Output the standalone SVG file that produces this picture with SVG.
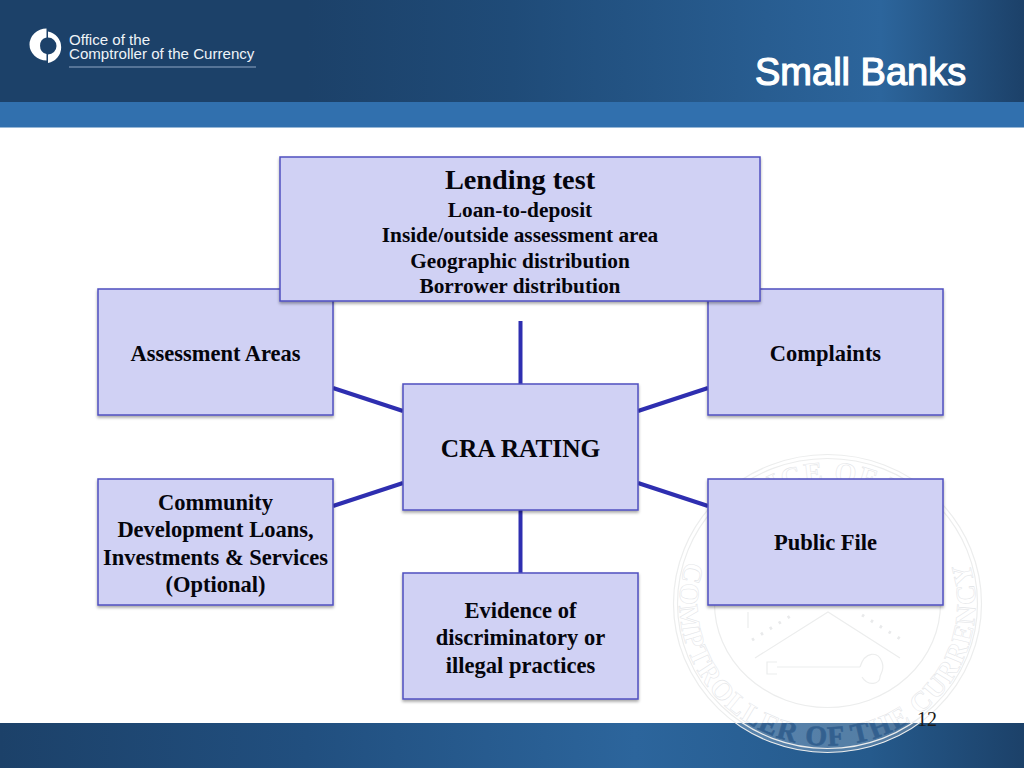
<svg xmlns="http://www.w3.org/2000/svg" width="1024" height="768" viewBox="0 0 1024 768">
<style>
.box{fill:#d0d1f4;stroke:#4f4fc0;stroke-width:1.5;filter:url(#sh)}
.t{font-family:"Liberation Serif",serif;font-weight:bold;fill:#05050c;text-anchor:middle}
.s{font-size:22.500px}.m{font-size:21.300px}.l{font-size:28.300px}.c{font-size:25.400px}
.conn line{stroke:#2e2eb0;stroke-width:4}
.seal{fill:none;stroke:#eceded;stroke-width:1.2}
.dots{fill:none;stroke:#e9eaeb;stroke-width:3;stroke-dasharray:2.500 8}
.sealt{font-family:"Liberation Serif",serif;font-weight:bold;font-size:28px;letter-spacing:1.500px;fill:url(#sealFill);stroke:url(#sealLine);stroke-width:.6}
.hd{font-family:"Liberation Sans",sans-serif;fill:#eef3f8;font-size:15.100px}
</style>
<defs>
<linearGradient id="band" x1="0" x2="1" y1="0" y2="0">
<stop offset="0" stop-color="#1c4169"/><stop offset=".3" stop-color="#1c4169"/><stop offset=".5" stop-color="#1f4b78"/><stop offset=".86" stop-color="#2c659c"/><stop offset="1" stop-color="#1c4169"/>
</linearGradient>
<linearGradient id="foot" x1="0" x2="1" y1="0" y2="0">
<stop offset="0" stop-color="#1c4169"/><stop offset=".3" stop-color="#214f7f"/><stop offset=".62" stop-color="#2c659c"/><stop offset=".85" stop-color="#255a8c"/><stop offset="1" stop-color="#1c4169"/>
</linearGradient>
<linearGradient id="sealFill" gradientUnits="userSpaceOnUse" x1="0" y1="440" x2="0" y2="768">
<stop offset=".863" stop-color="#fff"/><stop offset=".863" stop-color="#33608f"/>
</linearGradient>
<linearGradient id="sealLine" gradientUnits="userSpaceOnUse" x1="0" y1="440" x2="0" y2="768">
<stop offset=".863" stop-color="#e3e5e8"/><stop offset=".863" stop-color="#33608f"/>
</linearGradient>
<clipPath id="footClip"><rect y="723" width="1024" height="45"/></clipPath>
<filter id="sh" x="-5%" y="-5%" width="110%" height="112%"><feDropShadow dx="0" dy="2" stdDeviation="1.500" flood-color="#000" flood-opacity=".35"/></filter>
<path id="arcB" d="M686 562A148 142 0 1 0 969 562"/>
<path id="arcT" d="M735 524A122 122 0 0 1 921 524"/>
</defs>
<rect width="1024" height="768" fill="#fff"/>
<rect id="header" width="1024" height="102" fill="url(#band)"/>
<rect y="102" width="1024" height="25.500" fill="#3170ae"/>
<rect id="footer" y="723" width="1024" height="45" fill="url(#foot)"/>
<g id="seal">
<ellipse cx="827.500" cy="603.500" rx="154" ry="149" fill="#fff" fill-opacity=".22" clip-path="url(#footClip)"/>
<ellipse class="seal" cx="827.500" cy="603.500" rx="154" ry="149"/>
<ellipse class="seal" cx="827.500" cy="603.500" rx="150" ry="145"/>
<ellipse class="seal" cx="827.500" cy="603.500" rx="113" ry="104"/>
<text class="sealt"><textPath href="#arcB" startOffset="50%" text-anchor="middle">COMPTROLLER OF THE CURRENCY</textPath></text>
<text class="sealt"><textPath href="#arcT" startOffset="50%" text-anchor="middle">OFFICE OF THE</textPath></text>
<path class="seal" d="M755 658L828 612L900 658M748 612V628M777 667H860"/>
<path class="dots" d="M752 640L792 615M862 615L902 640"/>
<path class="seal" d="M777 662h-10v12h10M860 667c5-16 18-16 22-5c3 8-2 12-2 15c0 7-12 10-18 0"/>
</g>
<g id="logo">
<path d="M46.500 28.500A17 16 0 0 0 46.500 60.500V54A8.500 8.500 0 0 1 46.500 37.500Z" fill="#fff"/>
<path d="M48 31.500A16 16 0 0 1 48 63V54.500A8.500 8.500 0 0 0 48 37.500Z" fill="#fff"/>
<text class="hd" x="69" y="44.500">Office of the</text>
<text class="hd" x="69" y="59">Comptroller of the Currency</text>
<rect x="69" y="66.500" width="187" height="1" fill="#8fa8c6"/>
</g>
<text id="title" x="755" y="85" font-family="Liberation Sans, sans-serif" font-size="38" fill="#fff" stroke="#fff" stroke-width="1.200">Small Banks</text>
<g id="connectors" class="conn">
<line x1="520.500" y1="321" x2="520.500" y2="385"/>
<line x1="333" y1="388" x2="403" y2="411"/>
<line x1="708" y1="388" x2="638" y2="411"/>
<line x1="333" y1="506" x2="403" y2="483"/>
<line x1="708" y1="506" x2="638" y2="483"/>
<line x1="520.500" y1="510" x2="520.500" y2="573"/>
</g>
<g id="assessment"><rect class="box" x="98" y="289" width="235" height="126"/><text class="t s" x="215.500" y="361">Assessment Areas</text></g>
<g id="complaints"><rect class="box" x="708" y="289" width="235" height="126"/><text class="t s" x="825.500" y="361">Complaints</text></g>
<g id="lending"><rect class="box" x="280" y="157" width="480" height="144"/>
<text class="t l" x="520" y="189">Lending test</text>
<text class="t m" x="520" y="217">Loan-to-deposit</text>
<text class="t m" x="520" y="242">Inside/outside assessment area</text>
<text class="t m" x="520" y="268">Geographic distribution</text>
<text class="t m" x="520" y="293">Borrower distribution</text></g>
<g id="rating"><rect class="box" x="403" y="384" width="235" height="126"/><text class="t c" x="520.500" y="457">CRA RATING</text></g>
<g id="community"><rect class="box" x="98" y="479" width="235" height="126"/>
<text class="t s" x="215.500" y="510">Community</text>
<text class="t s" x="215.500" y="537">Development Loans,</text>
<text class="t s" x="215.500" y="565">Investments &amp; Services</text>
<text class="t s" x="215.500" y="592">(Optional)</text></g>
<g id="publicfile"><rect class="box" x="708" y="479" width="235" height="126"/><text class="t s" x="825.500" y="550">Public File</text></g>
<g id="evidence"><rect class="box" x="403" y="573" width="235" height="126"/>
<text class="t s" x="520.500" y="618">Evidence of</text>
<text class="t s" x="520.500" y="645">discriminatory or</text>
<text class="t s" x="520.500" y="673">illegal practices</text></g>
<text id="page" x="927" y="726" font-family="Liberation Serif, serif" font-size="20" fill="#1a1a1a" text-anchor="middle">12</text>
</svg>
